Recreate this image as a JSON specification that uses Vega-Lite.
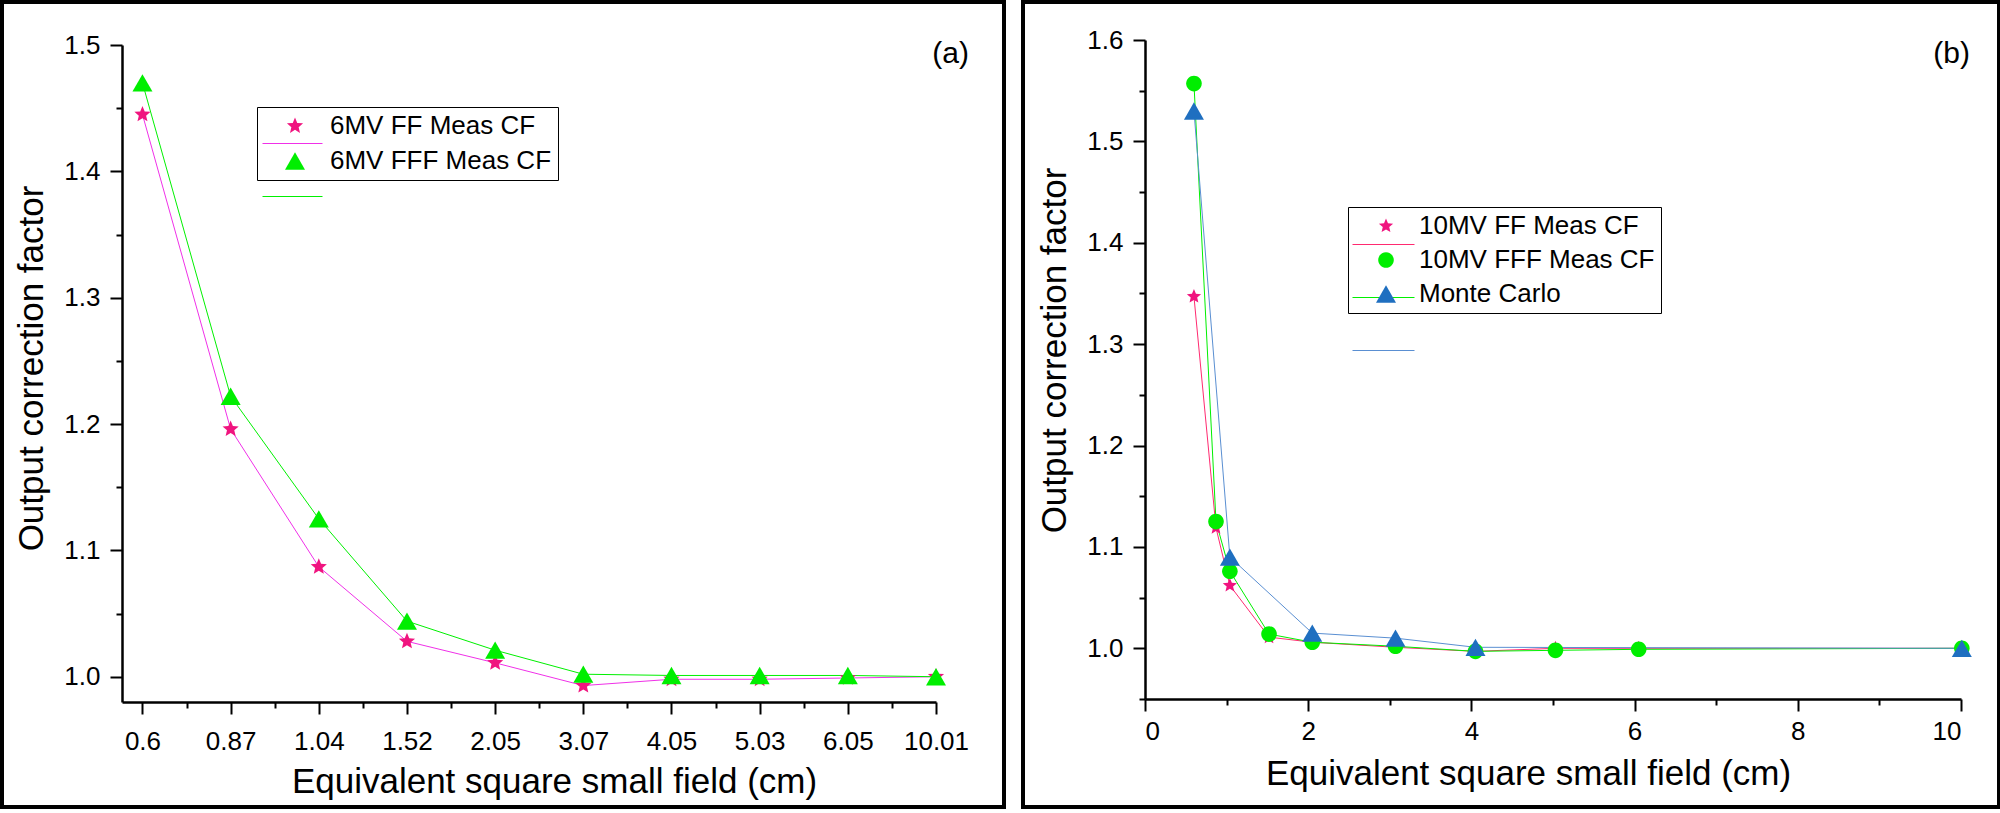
{
  "$schema": "https://vega.github.io/schema/vega-lite/v6.json",
  "background": "white",
  "padding": 0,
  "spacing": 15,
  "resolve": {"scale": {"fill": "independent", "shape": "independent", "stroke": "independent"}},
  "config": {
    "font": "Liberation Sans",
    "axis": {
      "labelFont": "Liberation Sans",
      "titleFont": "Liberation Sans",
      "labelFontSize": 26,
      "titleFontSize": 35,
      "titleFontWeight": "normal",
      "labelColor": "black",
      "titleColor": "black",
      "tickColor": "black",
      "domainColor": "black",
      "tickWidth": 2,
      "domainWidth": 2.5,
      "tickSize": 12,
      "grid": false
    },
    "legend": {
      "labelFont": "Liberation Sans",
      "labelFontSize": 26,
      "labelColor": "black",
      "labelLimit": 500
    }
  },
  "datasets": {
    "panelA": [
      {"size": "0.6", "series": "6MV FF Meas CF", "cf": 1.445},
      {"size": "0.87", "series": "6MV FF Meas CF", "cf": 1.196},
      {"size": "1.04", "series": "6MV FF Meas CF", "cf": 1.087},
      {"size": "1.52", "series": "6MV FF Meas CF", "cf": 1.028},
      {"size": "2.05", "series": "6MV FF Meas CF", "cf": 1.011},
      {"size": "3.07", "series": "6MV FF Meas CF", "cf": 0.993},
      {"size": "4.05", "series": "6MV FF Meas CF", "cf": 0.998},
      {"size": "5.03", "series": "6MV FF Meas CF", "cf": 0.998},
      {"size": "6.05", "series": "6MV FF Meas CF", "cf": 0.999},
      {"size": "10.01", "series": "6MV FF Meas CF", "cf": 1.0},
      {"size": "0.6", "series": "6MV FFF Meas CF", "cf": 1.47},
      {"size": "0.87", "series": "6MV FFF Meas CF", "cf": 1.222},
      {"size": "1.04", "series": "6MV FFF Meas CF", "cf": 1.125},
      {"size": "1.52", "series": "6MV FFF Meas CF", "cf": 1.044},
      {"size": "2.05", "series": "6MV FFF Meas CF", "cf": 1.021},
      {"size": "3.07", "series": "6MV FFF Meas CF", "cf": 1.002},
      {"size": "4.05", "series": "6MV FFF Meas CF", "cf": 1.001},
      {"size": "5.03", "series": "6MV FFF Meas CF", "cf": 1.001},
      {"size": "6.05", "series": "6MV FFF Meas CF", "cf": 1.001},
      {"size": "10.01", "series": "6MV FFF Meas CF", "cf": 1.0}
    ],
    "panelB": [
      {"field": 0.6, "series": "10MV FF Meas CF", "cf": 1.347},
      {"field": 0.87, "series": "10MV FF Meas CF", "cf": 1.119},
      {"field": 1.04, "series": "10MV FF Meas CF", "cf": 1.062},
      {"field": 1.52, "series": "10MV FF Meas CF", "cf": 1.011},
      {"field": 2.05, "series": "10MV FF Meas CF", "cf": 1.006},
      {"field": 3.07, "series": "10MV FF Meas CF", "cf": 1.001},
      {"field": 4.05, "series": "10MV FF Meas CF", "cf": 0.997},
      {"field": 5.03, "series": "10MV FF Meas CF", "cf": 1.0},
      {"field": 6.05, "series": "10MV FF Meas CF", "cf": 1.0},
      {"field": 10.01, "series": "10MV FF Meas CF", "cf": 1.0},
      {"field": 0.6, "series": "10MV FFF Meas CF", "cf": 1.557},
      {"field": 0.87, "series": "10MV FFF Meas CF", "cf": 1.125},
      {"field": 1.04, "series": "10MV FFF Meas CF", "cf": 1.076},
      {"field": 1.52, "series": "10MV FFF Meas CF", "cf": 1.014},
      {"field": 2.05, "series": "10MV FFF Meas CF", "cf": 1.006},
      {"field": 3.07, "series": "10MV FFF Meas CF", "cf": 1.002},
      {"field": 4.05, "series": "10MV FFF Meas CF", "cf": 0.997},
      {"field": 5.03, "series": "10MV FFF Meas CF", "cf": 0.998},
      {"field": 6.05, "series": "10MV FFF Meas CF", "cf": 0.999},
      {"field": 10.01, "series": "10MV FFF Meas CF", "cf": 1.0},
      {"field": 0.6, "series": "Monte Carlo", "cf": 1.53},
      {"field": 1.04, "series": "Monte Carlo", "cf": 1.09},
      {"field": 2.05, "series": "Monte Carlo", "cf": 1.015},
      {"field": 3.07, "series": "Monte Carlo", "cf": 1.01},
      {"field": 4.05, "series": "Monte Carlo", "cf": 1.001},
      {"field": 10.01, "series": "Monte Carlo", "cf": 1.0}
    ]
  },
  "hconcat": [
    {
      "width": 1002,
      "height": 805,
      "view": {"stroke": "black", "strokeWidth": 4},
      "title": {"text": "(a)", "anchor": "end", "orient": "top", "frame": "group", "offset": -67, "dx": -35, "fontSize": 30, "fontWeight": "normal", "font": "Liberation Sans", "color": "black"},
      "data": {"name": "panelA"},
      "layer": [
        {
          "mark": {"type": "line", "strokeWidth": 1},
          "encoding": {
            "x": {
              "field": "size", "type": "ordinal",
              "scale": {"type": "point", "domain": ["0.6", "0.87", "1.04", "1.52", "2.05", "3.07", "4.05", "5.03", "6.05", "10.01"], "range": [120, 934], "padding": 0.116, "align": 1},
              "axis": {"orient": "bottom", "offset": -105, "labelAngle": 0, "labelPadding": 14, "title": "Equivalent square small field (cm)", "titlePadding": 10, "titleX": 552}
            },
            "y": {
              "field": "cf", "type": "quantitative",
              "scale": {"domain": [0.98, 1.5], "range": [700, 43], "nice": false, "zero": false},
              "axis": {"orient": "left", "offset": -120, "values": [1.0, 1.1, 1.2, 1.3, 1.4, 1.5], "format": ".1f", "labelPadding": 10, "title": "Output correction factor", "titlePadding": 14, "titleY": 366}
            },
            "stroke": {
              "field": "series", "type": "nominal",
              "scale": {"range": ["#f030e8", "#00f000"]},
              "legend": {
                "title": null, "orient": "none", "legendX": 255, "legendY": 105, "direction": "vertical",
                "padding": 6, "rowPadding": 9, "labelLimit": 500, "labelOpacity": 0,
                "symbolType": "stroke", "symbolSize": 3600, "symbolOffset": -1, "symbolStrokeWidth": 1, "labelOffset": 22
              }
            }
          }
        },
        {
          "mark": {"type": "point", "filled": true, "opacity": 1, "size": 400},
          "encoding": {
            "x": {
              "field": "size", "type": "ordinal",
              "axis": {"orient": "bottom", "offset": -105, "values": ["0.6", "0.87", "1.04", "1.52", "2.05", "3.07", "4.05", "5.03", "6.05"], "tickOffset": 44.1, "tickSize": 6, "labels": false, "domain": false, "title": null}
            },
            "y": {
              "field": "cf", "type": "quantitative",
              "axis": {"orient": "left", "offset": -120, "values": [1.05, 1.15, 1.25, 1.35, 1.45], "tickSize": 6, "labels": false, "domain": false, "title": null}
            },
            "fill": {
              "field": "series", "type": "nominal",
              "scale": {"domain": ["6MV FF Meas CF", "6MV FFF Meas CF"], "range": ["#f0147f", "#00ee00"]},
              "legend": {
                "title": null, "orient": "none", "legendX": 255, "legendY": 105, "direction": "vertical",
                "padding": 6, "strokeColor": "black", "rowPadding": 9, "labelLimit": 500,
                "symbolSize": 400, "symbolOffset": 19, "labelOffset": 22
              }
            },
            "shape": {
              "field": "series", "type": "nominal",
              "scale": {"domain": ["6MV FF Meas CF", "6MV FFF Meas CF"], "range": ["M0,-0.85L0.225,-0.309L0.808,-0.263L0.364,0.118L0.5,0.688L0,0.383L-0.5,0.688L-0.364,0.118L-0.808,-0.263L-0.225,-0.309Z", "triangle-up"]},
              "legend": {
                "title": null, "orient": "none", "legendX": 255, "legendY": 105, "direction": "vertical",
                "padding": 6, "strokeColor": "black", "rowPadding": 9, "labelLimit": 500,
                "symbolSize": 400, "symbolOffset": 19, "labelOffset": 22
              }
            }
          }
        }
      ],
      "resolve": {"axis": {"x": "independent", "y": "independent"}}
    },
    {
      "width": 976,
      "height": 805,
      "view": {"stroke": "black", "strokeWidth": 4},
      "title": {"text": "(b)", "anchor": "end", "orient": "top", "frame": "group", "offset": -67, "dx": -29, "fontSize": 30, "fontWeight": "normal", "font": "Liberation Sans", "color": "black"},
      "data": {"name": "panelB"},
      "layer": [
        {
          "mark": {"type": "line", "strokeWidth": 1},
          "encoding": {
            "x": {
              "field": "field", "type": "quantitative",
              "scale": {"domain": [0, 10], "range": [122, 938], "nice": false, "zero": false},
              "axis": {"orient": "bottom", "offset": -108, "values": [0, 2, 4, 6, 8, 10], "format": "d", "labelPadding": 7, "title": "Equivalent square small field (cm)", "titlePadding": 12, "titleX": 505}
            },
            "y": {
              "field": "cf", "type": "quantitative",
              "scale": {"domain": [0.95, 1.6], "range": [697, 38], "nice": false, "zero": false},
              "axis": {"orient": "left", "offset": -122, "values": [1.0, 1.1, 1.2, 1.3, 1.4, 1.5, 1.6], "format": ".1f", "labelPadding": 10, "title": "Output correction factor", "titlePadding": 14, "titleY": 348}
            },
            "stroke": {
              "field": "series", "type": "nominal",
              "scale": {"range": ["#ff2a70", "#00f000", "#5a8fd2"]},
              "legend": {
                "title": null, "orient": "none", "legendX": 325, "legendY": 205, "direction": "vertical",
                "padding": 6, "rowPadding": 8, "labelLimit": 500, "labelOpacity": 0,
                "symbolType": "stroke", "symbolSize": 3844, "symbolOffset": -2, "symbolStrokeWidth": 1, "labelOffset": 20
              }
            }
          }
        },
        {
          "mark": {"type": "point", "filled": true, "opacity": 1, "size": 400},
          "encoding": {
            "x": {
              "field": "field", "type": "quantitative",
              "axis": {"orient": "bottom", "offset": -108, "values": [1, 3, 5, 7, 9], "tickSize": 6, "labels": false, "domain": false, "title": null}
            },
            "y": {
              "field": "cf", "type": "quantitative",
              "axis": {"orient": "left", "offset": -122, "values": [0.95, 1.05, 1.15, 1.25, 1.35, 1.45, 1.55], "tickSize": 6, "labels": false, "domain": false, "title": null}
            },
            "fill": {
              "field": "series", "type": "nominal",
              "scale": {"domain": ["10MV FF Meas CF", "10MV FFF Meas CF", "Monte Carlo"], "range": ["#f0147f", "#00ee00", "#1f6fc0"]},
              "legend": {
                "title": null, "orient": "none", "legendX": 325, "legendY": 205, "direction": "vertical",
                "padding": 6, "strokeColor": "black", "rowPadding": 8, "labelLimit": 500,
                "symbolSize": 400, "symbolOffset": 19, "labelOffset": 20
              }
            },
            "shape": {
              "field": "series", "type": "nominal",
              "scale": {"domain": ["10MV FF Meas CF", "10MV FFF Meas CF", "Monte Carlo"], "range": ["M0,-0.75L0.198,-0.273L0.713,-0.232L0.321,0.104L0.441,0.607L0,0.338L-0.441,0.607L-0.321,0.104L-0.713,-0.232L-0.198,-0.273Z", "M0.78,0A0.78,0.78,0,1,1,-0.78,0A0.78,0.78,0,1,1,0.78,0Z", "triangle-up"]},
              "legend": {
                "title": null, "orient": "none", "legendX": 325, "legendY": 205, "direction": "vertical",
                "padding": 6, "strokeColor": "black", "rowPadding": 8, "labelLimit": 500,
                "symbolSize": 400, "symbolOffset": 19, "labelOffset": 20
              }
            }
          }
        }
      ],
      "resolve": {"axis": {"x": "independent", "y": "independent"}}
    }
  ]
}
